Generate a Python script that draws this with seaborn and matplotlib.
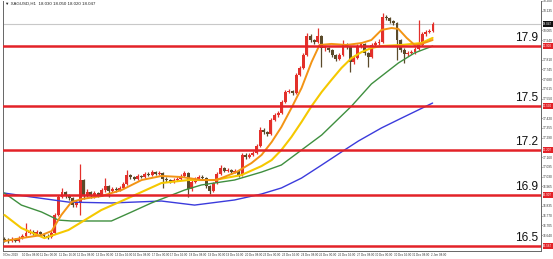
import numpy as np
import pandas as pd
import matplotlib
matplotlib.use("Agg")
import matplotlib.pyplot as plt
import seaborn as sns

# ---------------- data (XAGUSD, H1) ----------------
first_open = 16.614
close = [16.607, 16.600, 16.614, 16.600, 16.620, 16.634, 16.654, 16.660, 16.647, 16.660,
         16.647, 16.634, 16.627, 16.654, 16.774, 16.894, 16.927, 16.900, 16.887, 16.840,
         16.860, 17.007, 16.907, 16.927, 16.900, 16.920, 16.907, 16.940, 16.967, 16.934,
         16.947, 16.940, 16.954, 16.980, 17.040, 17.027, 17.014, 17.034, 17.027, 17.047,
         17.040, 17.060, 17.047, 17.054, 17.014, 17.007, 16.994, 17.007, 17.014, 17.034,
         17.054, 16.947, 16.994, 17.014, 17.027, 17.020, 16.967, 16.934, 16.987, 17.047,
         17.087, 17.067, 17.074, 17.060, 17.067, 17.040, 17.174, 17.160, 17.174, 17.187,
         17.234, 17.340, 17.327, 17.314, 17.407, 17.440, 17.454, 17.527, 17.594, 17.600,
         17.587, 17.707, 17.754, 17.840, 17.967, 17.940, 17.927, 17.967, 17.887, 17.887,
         17.874, 17.840, 17.814, 17.840, 17.907, 17.894, 17.794, 17.820, 17.900, 17.914,
         17.854, 17.827, 17.907, 17.920, 17.927, 18.094, 18.087, 18.067, 18.054, 17.940,
         17.874, 17.847, 17.854, 17.860, 17.880, 17.907, 17.980, 17.994, 18.000, 18.047]
high = [16.630, 16.620, 16.625, 16.622, 16.632, 16.645, 16.720, 16.680, 16.672, 16.675,
        16.668, 16.655, 16.645, 16.665, 16.790, 16.905, 16.954, 16.935, 16.912, 16.895,
        16.875, 17.114, 17.015, 16.945, 16.935, 16.935, 16.930, 16.955, 17.020, 16.975,
        16.960, 16.958, 16.965, 16.992, 17.074, 17.050, 17.035, 17.045, 17.042, 17.060,
        17.062, 17.074, 17.068, 17.066, 17.060, 17.025, 17.015, 17.018, 17.025, 17.045,
        17.065, 17.060, 17.005, 17.025, 17.040, 17.038, 17.028, 16.975, 16.995, 17.058,
        17.107, 17.095, 17.085, 17.080, 17.078, 17.072, 17.190, 17.185, 17.186, 17.200,
        17.248, 17.360, 17.352, 17.335, 17.420, 17.455, 17.470, 17.540, 17.610, 17.615,
        17.608, 17.720, 17.770, 17.855, 17.985, 17.978, 17.950, 18.020, 17.975, 17.900,
        17.895, 17.880, 17.848, 17.852, 17.940, 17.918, 17.900, 17.835, 17.912, 17.928,
        17.920, 17.862, 17.920, 17.935, 17.945, 18.120, 18.108, 18.095, 18.075, 18.060,
        17.950, 17.885, 17.868, 17.872, 17.892, 18.074, 17.995, 18.008, 18.015, 18.060]
low = [16.595, 16.590, 16.592, 16.593, 16.595, 16.612, 16.628, 16.645, 16.638, 16.640,
       16.636, 16.625, 16.614, 16.620, 16.648, 16.765, 16.885, 16.890, 16.875, 16.830,
       16.825, 16.774, 16.880, 16.895, 16.890, 16.890, 16.895, 16.900, 16.930, 16.894,
       16.925, 16.930, 16.932, 16.948, 16.975, 17.015, 17.004, 17.008, 17.018, 17.020,
       17.032, 17.035, 17.040, 17.040, 16.954, 16.995, 16.985, 16.985, 17.000, 17.008,
       17.028, 16.894, 16.935, 16.985, 17.005, 17.010, 16.955, 16.914, 16.925, 16.980,
       17.040, 17.058, 17.060, 17.050, 17.052, 17.030, 17.035, 17.150, 17.152, 17.165,
       17.180, 17.228, 17.315, 17.300, 17.305, 17.398, 17.430, 17.448, 17.520, 17.585,
       17.575, 17.580, 17.700, 17.745, 17.835, 17.930, 17.915, 17.920, 17.760, 17.870,
       17.862, 17.828, 17.800, 17.805, 17.832, 17.882, 17.727, 17.780, 17.812, 17.890,
       17.840, 17.760, 17.818, 17.898, 17.910, 17.920, 18.075, 18.055, 18.040, 17.807,
       17.860, 17.787, 17.835, 17.845, 17.850, 17.872, 17.900, 17.970, 17.985, 17.992]

# moving averages (bar position, price)
ma_orange_x = [0, 4.7, 10.3, 13.1, 15.8, 18.6, 21.4, 26.9, 32.5, 38.1, 43.6, 49.2, 54.7, 58.9,
               64.4, 68.6, 71.4, 74.2, 76.9, 79.7, 82.5, 85.3, 87.5, 90.8, 95, 99.2, 101.9,
               104.7, 107.5, 109.4, 111.7, 113.9, 115.8, 118.9]
ma_orange_y = [16.600, 16.620, 16.640, 16.667, 16.774, 16.860, 16.880, 16.900, 16.940, 17.007,
               17.034, 17.027, 17.007, 17.007, 17.060, 17.120, 17.174, 17.260, 17.360, 17.487,
               17.620, 17.794, 17.907, 17.914, 17.907, 17.920, 17.940, 18.007, 18.020, 18.014,
               17.954, 17.907, 17.914, 17.940]
ma_yellow_x = [0, 4.7, 11.1, 17.8, 26.9, 34.4, 43.6, 51.1, 58.3, 65.8, 71.4, 74.2, 76.9, 79.7,
               82.5, 85.3, 88.1, 90.8, 93.6, 96.4, 99.2, 101.9, 104.7, 110.3, 115.8, 118.9]
ma_yellow_y = [16.774, 16.687, 16.620, 16.674, 16.807, 16.887, 16.987, 17.007, 17.007, 17.040,
               17.100, 17.140, 17.207, 17.294, 17.394, 17.500, 17.594, 17.674, 17.754, 17.820,
               17.860, 17.887, 17.900, 17.907, 17.920, 17.954]
ma_green_x = [0, 4.7, 10.3, 15, 18.6, 29.7, 35.3, 40.8, 50, 54.7, 63.9, 71.4, 76.9, 82.5,
              88.1, 96.4, 101.9, 109.4, 113.9, 118.9]
ma_green_y = [16.920, 16.840, 16.794, 16.740, 16.734, 16.734, 16.794, 16.854, 16.940, 16.974,
              17.007, 17.060, 17.107, 17.207, 17.307, 17.500, 17.647, 17.787, 17.854, 17.900]
ma_blue_x = [0, 7.5, 17.8, 29.7, 43.6, 52.8, 63.9, 71.4, 76.9, 82.5, 88.1, 93.6, 98.3,
             104.7, 110.3, 118.9]
ma_blue_y = [16.920, 16.894, 16.860, 16.854, 16.867, 16.840, 16.874, 16.914, 16.954, 17.020,
             17.107, 17.194, 17.267, 17.354, 17.420, 17.520]

level_values = [17.900, 17.500, 17.207, 16.907, 16.567]
level_labels = ["17.9", "17.5", "17.2", "16.9", "16.5"]
last_price = 18.047

x_tick_labels = ["9 Dec 2019", "10 Dec 08:00", "11 Dec 00:00", "11 Dec 16:00", "12 Dec 08:00",
                 "13 Dec 00:00", "13 Dec 16:00", "16 Dec 08:00", "17 Dec 00:00", "17 Dec 16:00",
                 "18 Dec 08:00", "19 Dec 00:00", "19 Dec 16:00", "20 Dec 08:00", "23 Dec 00:00",
                 "23 Dec 16:00", "24 Dec 08:00", "26 Dec 00:00", "26 Dec 16:00", "27 Dec 08:00",
                 "30 Dec 00:00", "30 Dec 16:00", "31 Dec 08:00", "2 Jan 08:00"]
title_text = "\u25bc XAGUSD,H1  18.030 18.050 18.020 18.047"

# ---------------- styling ----------------
UP = "#e3302b"
DOWN = "#5b4a2a"
RED = "#e32228"

sns.set_theme(style="white")
plt.rcParams["font.family"] = ["Liberation Sans", "DejaVu Sans"]

fig = plt.figure(figsize=(5.53, 2.59), dpi=100)
ax = fig.add_axes([3 / 553, 8 / 259, 538 / 553, 250 / 259])

XL, XR = -0.4, 149.0
ax.set_xlim(XL, XR)
ax.set_ylim(16.534, 18.200)

# candles
c = np.array(close)
o = np.array([first_open] + close[:-1])
idx = np.arange(len(c))
cols = np.where(c >= o, UP, DOWN)
ax.vlines(idx, low, high, colors=cols, lw=0.9, zorder=3)
ax.bar(idx, np.maximum(np.abs(c - o), 0.006), bottom=np.minimum(o, c), width=0.8,
       color=cols, linewidth=0, zorder=4)

# moving averages
for xs, ys, col, lw in [(ma_blue_x, ma_blue_y, "#3b3bdc", 1.0),
                        (ma_green_x, ma_green_y, "#3f8f3f", 1.0),
                        (ma_yellow_x, ma_yellow_y, "#f5c800", 1.5),
                        (ma_orange_x, ma_orange_y, "#f39414", 1.4)]:
    df = pd.DataFrame({"bar": xs, "price": ys})
    sns.lineplot(data=df, x="bar", y="price", ax=ax, color=col, lw=lw, sort=False,
                 estimator=None, zorder=6)

# current price line
ax.axhline(last_price, color="#c8c8c8", lw=0.8, zorder=1)

# support / resistance levels
ytr = ax.get_yaxis_transform()
for v, lab in zip(level_values, level_labels):
    ax.axhline(v, color=RED, lw=1.8, zorder=7)
    ax.text(0.9955, v + 0.012, lab, transform=ytr, ha="right", va="bottom",
            fontsize=8.6, color="#111111", zorder=8)
    ax.text(1.004, v, f"{v:.3f}", transform=ytr, ha="left", va="center", fontsize=2.2,
            color="white", clip_on=False,
            bbox=dict(boxstyle="square,pad=0.2", fc=RED, ec="none"))
ax.text(1.004, last_price, f"{last_price:.3f}", transform=ytr, ha="left", va="center",
        fontsize=2.2, color="white", clip_on=False,
        bbox=dict(boxstyle="square,pad=0.2", fc="#111111", ec="none"))

# title
ax.text(0.004, 0.997, title_text, transform=ax.transAxes, ha="left", va="top",
        fontsize=3.2, color="#222222", family=["Liberation Sans", "DejaVu Sans"])

# axes / ticks (skip tick labels hidden behind the value boxes)
ax.yaxis.tick_right()
yt_all = np.arange(18.200, 16.54, -0.065)
marks = level_values + [last_price]
yt = [t for t in yt_all if min(abs(t - m) for m in marks) > 0.035]
ax.set_yticks(yt)
ax.set_yticklabels([f"{t:.3f}" for t in yt])
xt = [XL + k * 18.6 / 3.6 for k in range(len(x_tick_labels))]
ax.set_xticks(xt)
ax.set_xticklabels(x_tick_labels, ha="left")
ax.tick_params(axis="both", which="both", labelsize=2.3, length=1.0, width=0.5, pad=0.5,
               colors="#333333", direction="out")
ax.tick_params(axis="x", labelsize=2.05)
ax.tick_params(axis="y", right=True, left=False, labelright=True, labelleft=False)
ax.set_xlabel("")
ax.set_ylabel("")
ax.grid(False)
for s in ["left", "right", "bottom"]:
    ax.spines[s].set_color("#666666")
    ax.spines[s].set_linewidth(0.7)
ax.spines["top"].set_visible(False)

fig.savefig("out.png", dpi=100)
